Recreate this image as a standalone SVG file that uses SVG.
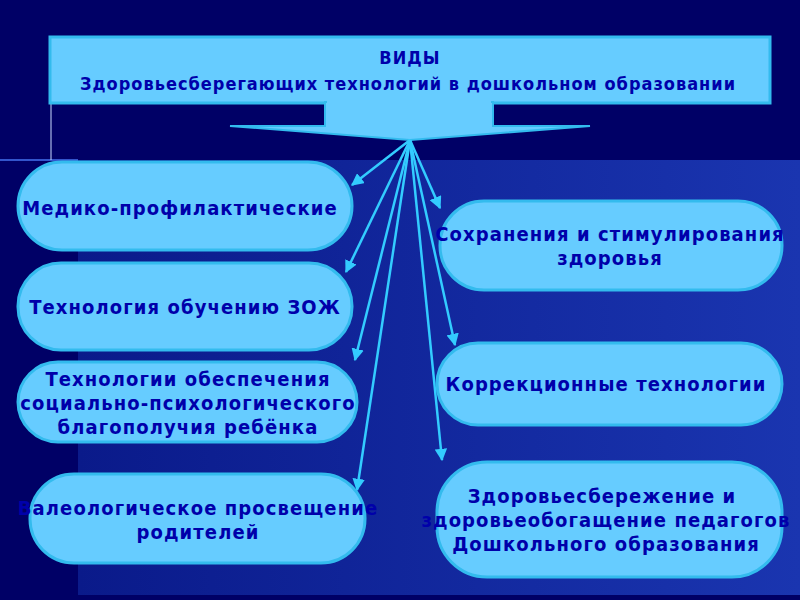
<svg xmlns="http://www.w3.org/2000/svg" width="800" height="600" viewBox="0 0 800 600">
<defs>
<marker id="ah" viewBox="0 0 10 10" refX="9" refY="5" markerWidth="5" markerHeight="5" orient="auto"><path d="M0,0 L10,5 L0,10 z" fill="#33ccff"/></marker>
<linearGradient id="bg" x1="0" y1="0" x2="1" y2="0"><stop offset="0" stop-color="#0a1a8a"/><stop offset="1" stop-color="#1a35b0"/></linearGradient>
</defs>
<style>
.pill{fill:#66ccff;stroke:#33bbee;stroke-width:3}
.t{font-family:"DejaVu Sans Condensed","DejaVu Sans",sans-serif;font-weight:bold;font-size:20px;letter-spacing:1.1px;fill:#0000aa;text-anchor:middle}
.c{stroke:#33ccff;stroke-width:2.5;fill:none;marker-end:url(#ah)}
</style>
<rect width="800" height="600" fill="#000066"/>
<rect x="78" y="160" width="722" height="435" fill="url(#bg)"/>
<line x1="0" y1="160" x2="78" y2="160" stroke="#3355cc" stroke-width="2"/>
<line x1="51" y1="103" x2="51" y2="160" stroke="#ccddff" stroke-width="1"/>
<g id="title">
<rect x="50" y="37" width="720" height="66" fill="#66ccff" stroke="#33bbee" stroke-width="3"/>
<polygon points="325,102 493,102 493,126 590,126 410,140 230,126 325,126" fill="#66ccff" stroke="#33bbee" stroke-width="2"/>
<rect x="327" y="100" width="164" height="6" fill="#66ccff"/>
<text class="t" x="410" y="64" style="font-size:18px">ВИДЫ</text>
<text class="t" x="408" y="90" style="font-size:18px;letter-spacing:1px">Здоровьесберегающих технологий в дошкольном образовании</text>
</g>
<g id="connectors">
<line class="c" x1="410" y1="140" x2="352" y2="185"/>
<line class="c" x1="410" y1="140" x2="346" y2="272"/>
<line class="c" x1="410" y1="140" x2="355" y2="360"/>
<line class="c" x1="410" y1="140" x2="357" y2="490"/>
<line class="c" x1="410" y1="140" x2="440" y2="208"/>
<line class="c" x1="410" y1="140" x2="455" y2="345"/>
<line class="c" x1="410" y1="140" x2="442" y2="460"/>
</g>
<g id="n1"><rect class="pill" x="18" y="162" width="334" height="88" rx="44"/><text class="t" x="180" y="215">Медико-профилактические</text></g>
<g id="n2"><rect class="pill" x="18" y="263" width="334" height="87" rx="43"/><text class="t" x="185" y="314">Технология обучению ЗОЖ</text></g>
<g id="n3"><rect class="pill" x="18" y="362" width="339" height="80" rx="40"/><text class="t" x="188" y="386">Технологии обеспечения</text><text class="t" x="188" y="410">социально-психологического</text><text class="t" x="188" y="434">благополучия ребёнка</text></g>
<g id="n4"><rect class="pill" x="30" y="474" width="335" height="89" rx="44"/><text class="t" x="198" y="515">Валеологическое просвещение</text><text class="t" x="198" y="539">родителей</text></g>
<g id="r1"><rect class="pill" x="440" y="201" width="342" height="89" rx="44"/><text class="t" x="610" y="241">Сохранения и стимулирования</text><text class="t" x="610" y="265">здоровья</text></g>
<g id="r2"><rect class="pill" x="437" y="343" width="345" height="82" rx="41"/><text class="t" x="606" y="391">Коррекционные технологии</text></g>
<g id="r3"><rect class="pill" x="437" y="462" width="345" height="115" rx="50"/><text class="t" x="602" y="503">Здоровьесбережение и</text><text class="t" x="606" y="527">здоровьеобогащение педагогов</text><text class="t" x="606" y="551">Дошкольного образования</text></g>
</svg>
